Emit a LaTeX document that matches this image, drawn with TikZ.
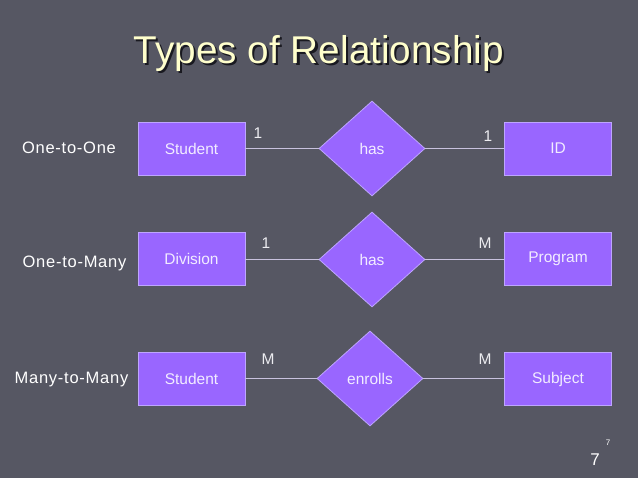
\documentclass[tikz,border=0pt]{standalone}
\usepackage{fontspec}
\setmainfont{Liberation Sans}
\newfontfamily\lblfont[LetterSpace=4.5]{Liberation Sans}
\usetikzlibrary{shapes.geometric}
\definecolor{bgc}{RGB}{86,87,99}
\definecolor{boxc}{RGB}{153,102,255}
\definecolor{boxedge}{RGB}{190,165,255}
\definecolor{boxtxt}{RGB}{242,236,255}
\definecolor{linec}{RGB}{200,194,222}
\definecolor{titlec}{RGB}{255,255,204}
\definecolor{shadowc}{RGB}{25,25,32}
\definecolor{cardc}{RGB}{236,236,240}
\tikzset{
  entity/.style={rectangle, draw=boxedge, line width=0.8pt, fill=boxc, minimum width=107pt, minimum height=53pt, inner sep=0pt, text=boxtxt, font=\fontsize{15.5}{18}\selectfont},
  rel/.style={diamond, draw=boxedge, line width=0.8pt, fill=boxc, minimum width=106pt, minimum height=95pt, inner sep=0pt, text=boxtxt, font=\fontsize{15.5}{18}\selectfont},
  conn/.style={draw=linec, line width=1.1pt},
  card/.style={text=cardc, font=\fontsize{15.5}{18}\selectfont, inner sep=0pt},
  kind/.style={text=white, font=\lblfont\fontsize{16.5}{19}\selectfont, inner sep=0pt},
}
\begin{document}
\begin{tikzpicture}[x=1pt,y=-1pt]
\useasboundingbox (0,0) rectangle (638,478);
\fill[bgc] (0,0) rectangle (638,478);
% title
\node[text=shadowc, font=\fontsize{38.7}{44}\selectfont, inner sep=0pt] (tshadow) at (321,55) {Types of Relationship};
\node[text=titlec, font=\fontsize{38.7}{44}\selectfont, inner sep=0pt] (title) at (319,53) {Types of Relationship};
% row 1
\node[kind] (k1) at (69,148) {One-to-One};
\node[entity] (s1) at (191.5,148.5) {Student};
\node[rel] (r1) at (372,148.5) {has};
\node[entity] (e1) at (558,148.5) {ID};
\draw[conn] (s1.east |- r1.west) -- (r1.west);
\draw[conn] (r1.east) -- (e1.west |- r1.east);
\node[card] (c1a) at (258,133) {1};
\node[card] (c1b) at (488,136) {1};
% row 2
\node[kind] (k2) at (74.5,263) {One-to-Many};
\node[entity] (s2) at (191.5,259) {Division};
\node[rel] (r2) at (372,259.5) {has};
\node[entity] (e2) at (558,259) {Program};
\draw[conn] (s2.east |- r2.west) -- (r2.west);
\draw[conn] (r2.east) -- (e2.west |- r2.east);
\node[card] (c2a) at (266,243) {1};
\node[card] (c2b) at (485,243) {M};
% row 3
\node[kind] (k3) at (71.5,380) {Many-to-Many};
\node[entity] (s3) at (191.5,379) {Student};
\node[rel] (r3) at (370,378.5) {enrolls};
\node[entity] (e3) at (558,379) {Subject};
\draw[conn] (s3.east |- r3.west) -- (r3.west);
\draw[conn] (r3.east) -- (e3.west |- r3.east);
\node[card] (c3a) at (268,359) {M};
\node[card] (c3b) at (485,359) {M};
% page numbers
\node[text=white, font=\fontsize{8}{10}\selectfont, inner sep=0pt] (pn1) at (608,443) {7};
\node[text=white, font=\fontsize{17}{20}\selectfont, inner sep=0pt] (pn2) at (595,460) {7};
\end{tikzpicture}
\end{document}
